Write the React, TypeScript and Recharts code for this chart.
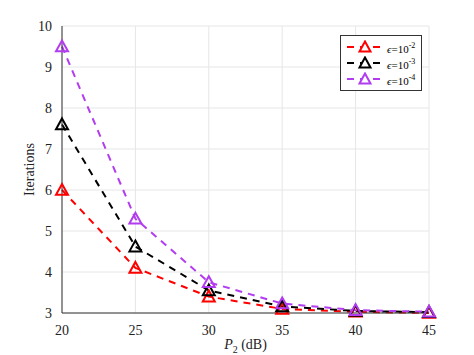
import React from "react";
import { LineChart, Line, XAxis, YAxis, CartesianGrid } from "recharts";

const powerDb = [20, 25, 30, 35, 40, 45];
const eps2 = [6.0, 4.1, 3.4, 3.1, 3.03, 3.0];
const eps3 = [7.6, 4.62, 3.55, 3.16, 3.05, 3.02];
const eps4 = [9.5, 5.3, 3.75, 3.23, 3.07, 3.03];
const xTicks = [20, 25, 30, 35, 40, 45];
const yTicks = [3, 4, 5, 6, 7, 8, 9, 10];

const data = powerDb.map((p, i) => ({ p, e2: eps2[i], e3: eps3[i], e4: eps4[i] }));

const series = [
  { key: "e2", color: "#ff0000", exp: "-2" },
  { key: "e3", color: "#000000", exp: "-3" },
  { key: "e4", color: "#b23cf0", exp: "-4" },
];

const FONT = "'Liberation Serif', 'DejaVu Serif', serif";

const triangle = (color: string) => (props: any) => {
  const { cx, cy, key } = props;
  if (cx == null || cy == null) return <g key={key} />;
  const s = 6;
  return (
    <path
      key={key}
      d={`M${cx},${cy - s} L${cx + s},${cy + s * 0.8} L${cx - s},${cy + s * 0.8} Z`}
      fill="none"
      stroke={color}
      strokeWidth={2}
    />
  );
};

const XTick = (props: any) => {
  const { x, y, payload } = props;
  return (
    <text x={x} y={y + 14} textAnchor="middle" fontFamily={FONT} fontSize={14} fill="#222">
      {payload.value}
    </text>
  );
};

const YTick = (props: any) => {
  const { x, y, payload } = props;
  return (
    <text x={x - 2} y={y + 5} textAnchor="end" fontFamily={FONT} fontSize={14} fill="#222">
      {payload.value}
    </text>
  );
};

const LegendBox = () => (
  <div
    style={{
      position: "absolute",
      left: 340,
      top: 35,
      border: "1px solid #333",
      background: "#fff",
      width: 76,
      padding: "3px 0 3px 4px",
      fontFamily: FONT,
      fontSize: 11,
      lineHeight: "14px",
    }}
  >
    {series.map((s) => (
      <div key={s.key} style={{ display: "flex", alignItems: "center", height: 16 }}>
        <svg width={40} height={14}>
          <line x1={2} y1={7} x2={38} y2={7} stroke={s.color} strokeWidth={2} strokeDasharray="7 6" />
          <path d="M20,1.5 L25.5,11.5 L14.5,11.5 Z" fill="#fff" stroke={s.color} strokeWidth={2} />
        </svg>
        <span style={{ marginLeft: 2 }}>
          <i>ϵ</i>=10<sup style={{ fontSize: 8 }}>{s.exp}</sup>
        </span>
      </div>
    ))}
  </div>
);

const XLabel = (props: any) => {
  const { viewBox } = props;
  const x = viewBox.x + viewBox.width / 2;
  const y = viewBox.y + 36;
  return (
    <text x={x} y={y} textAnchor="middle" fontFamily={FONT} fontSize={14} fill="#222">
      <tspan fontStyle="italic">P</tspan>
      <tspan fontSize={10} dy={4}>2</tspan>
      <tspan dy={-4}> (dB)</tspan>
    </text>
  );
};

const YLabel = (props: any) => {
  const { viewBox } = props;
  const x = 34;
  const y = viewBox.y + viewBox.height / 2;
  return (
    <text x={x} y={y} textAnchor="middle" fontFamily={FONT} fontSize={14} fill="#222" transform={`rotate(-90 ${x} ${y})`}>
      Iterations
    </text>
  );
};

export default function App() {
  return (
    <div style={{ position: "absolute", left: 0, top: 0, background: "#fff", fontFamily: FONT }}>
      <LineChart
        width={474}
        height={355}
        data={data}
        margin={{ top: 26, right: 45, left: 32, bottom: 0 }}
      >
        <CartesianGrid stroke="#e6e6e6" strokeWidth={1} horizontal vertical />
        <XAxis
          dataKey="p"
          type="number"
          domain={[20, 45]}
          ticks={xTicks}
          height={42}
          axisLine={{ stroke: "#333" }}
          tickLine={false}
          tick={<XTick />}
          label={<XLabel />}
        />
        <XAxis
          xAxisId="top"
          orientation="top"
          dataKey="p"
          type="number"
          domain={[20, 45]}
          ticks={xTicks}
          height={0}
          axisLine={{ stroke: "#333" }}
          tickLine={false}
          tick={false}
        />
        <YAxis
          type="number"
          domain={[3, 10]}
          ticks={yTicks}
          width={30}
          axisLine={{ stroke: "#333" }}
          tickLine={false}
          tick={<YTick />}
          label={<YLabel />}
        />
        <YAxis
          yAxisId="right"
          orientation="right"
          type="number"
          domain={[3, 10]}
          ticks={yTicks}
          width={0}
          axisLine={{ stroke: "#333" }}
          tickLine={false}
          tick={false}
        />
        {series.map((s) => (
          <Line
            key={s.key}
            dataKey={s.key}
            stroke={s.color}
            strokeWidth={2}
            strokeDasharray="7 6"
            type="linear"
            dot={triangle(s.color)}
            activeDot={false}
            isAnimationActive={false}
          />
        ))}
      </LineChart>
      <LegendBox />
    </div>
  );
}
